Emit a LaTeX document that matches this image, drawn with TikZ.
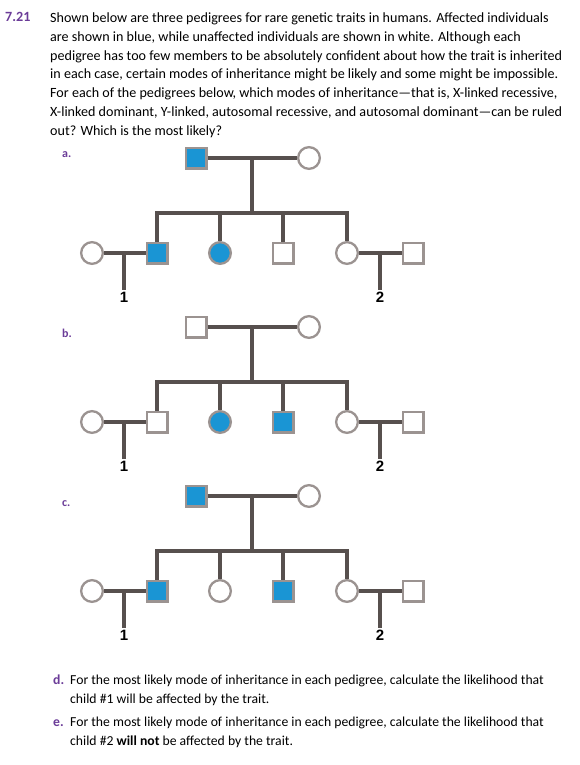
\documentclass[tikz,border=0pt]{standalone}
\usepackage{fontspec}
\setmainfont{Carlito}
\newfontfamily\numfont{Liberation Sans}
\usetikzlibrary{positioning}
\definecolor{pedblue}{HTML}{1A95D4}
\definecolor{rimgray}{HTML}{9B9391}
\definecolor{linegray}{HTML}{57504E}
\definecolor{labpurple}{HTML}{6B3C98}

\begin{document}
\begin{tikzpicture}[x=1pt,y=-1pt,
  male/.style={rectangle,draw=rimgray,line width=2.3pt,minimum size=20.7pt,inner sep=0pt},
  female/.style={circle,draw=rimgray,line width=2.3pt,minimum size=21.7pt,inner sep=0pt},
  aff/.style={fill=pedblue},
  unaff/.style={fill=white},
  tie/.style={draw=linegray,line width=3.6pt},
  childno/.style={font=\numfont\bfseries\fontsize{15}{15}\selectfont,inner sep=2pt},
  txt/.style={align=left,inner sep=0pt,anchor=north west},
  tag/.style={text=labpurple,inner sep=0pt,anchor=base west},
  part/.style={text=labpurple,inner sep=0pt,anchor=west,font=\bfseries\fontsize{12}{12}\selectfont}]
\useasboundingbox (0,0) rectangle (580,765);

% question text
\node[tag,font=\bfseries\fontsize{14.1}{18.9}\selectfont] (num) at (5,22) {7.21};
\node[txt,font=\fontsize{14.1}{18.9}\selectfont] (intro) at (50,8.8) {\strut Shown below are three pedigrees for rare genetic traits in humans. Affected individuals\\
are shown in blue, while unaffected individuals are shown in white. Although each\\
pedigree has too few members to be absolutely confident about how the trait is inherited\\
in each case, certain modes of inheritance might be likely and some might be impossible.\\
For each of the pedigrees below, which modes of inheritance—that is, X-linked recessive,\\
X-linked dominant, Y-linked, autosomal recessive, and autosomal dominant—can be ruled\\
out? Which is the most likely?};

% the three pedigrees
\foreach \p/\dy/\ly/\fF/\fA/\fB/\fC in {a/0/155/aff/aff/aff/unaff,
                                        b/169/333/unaff/unaff/aff/aff,
                                        c/338/504/aff/aff/unaff/aff}{
  \node[part] (\p-lab) at (62,\ly) {\p.};
  \node[male,\fF] (\p-F) at (196,158+\dy) {};
  \node[female,unaff] (\p-M) at (309,158+\dy) {};
  \node[male,\fA] (\p-c1) at (157,253+\dy) {};
  \node[female,\fB] (\p-c2) at (220,253+\dy) {};
  \node[male,\fC] (\p-c3) at (283,253+\dy) {};
  \node[female,unaff] (\p-c4) at (347,253+\dy) {};
  \node[female,unaff] (\p-w1) at (92,253+\dy) {};
  \node[male,unaff] (\p-h2) at (413,253+\dy) {};
  \node[childno] (\p-n1) at (124,297+\dy) {1};
  \node[childno] (\p-n2) at (380,297+\dy) {2};
  \coordinate (\p-mar) at (252,158+\dy);
  \coordinate (\p-sib) at (252,213+\dy);
  \coordinate (\p-k1) at (124,253+\dy);
  \coordinate (\p-k2) at (380,253+\dy);
  \draw[tie] (\p-F) -- (\p-M);
  \draw[tie] (\p-mar) -- (\p-sib);
  \draw[tie] (\p-c1) |- (\p-sib) -| (\p-c4);
  \draw[tie] (\p-c2) -- (\p-c2 |- \p-sib);
  \draw[tie] (\p-c3) -- (\p-c3 |- \p-sib);
  \draw[tie] (\p-w1) -- (\p-c1);
  \draw[tie] (\p-c4) -- (\p-h2);
  \draw[tie] (\p-k1) -- (\p-n1);
  \draw[tie] (\p-k2) -- (\p-n2);
}

% parts d and e
\node[tag,font=\bfseries\fontsize{13.7}{18.9}\selectfont] (d) at (53,684) {d.};
\node[txt,font=\fontsize{13.7}{18.9}\selectfont] (qd) at (70,670.8) {\strut For the most likely mode of inheritance in each pedigree, calculate the likelihood that\\
child \#1 will be affected by the trait.};
\node[tag,font=\bfseries\fontsize{13.7}{18.9}\selectfont] (e) at (53,726) {e.};
\node[txt,font=\fontsize{13.7}{18.9}\selectfont] (qe) at (70,712.8) {\strut For the most likely mode of inheritance in each pedigree, calculate the likelihood that\\
child \#2 \textbf{will not} be affected by the trait.};
\end{tikzpicture}
\end{document}
